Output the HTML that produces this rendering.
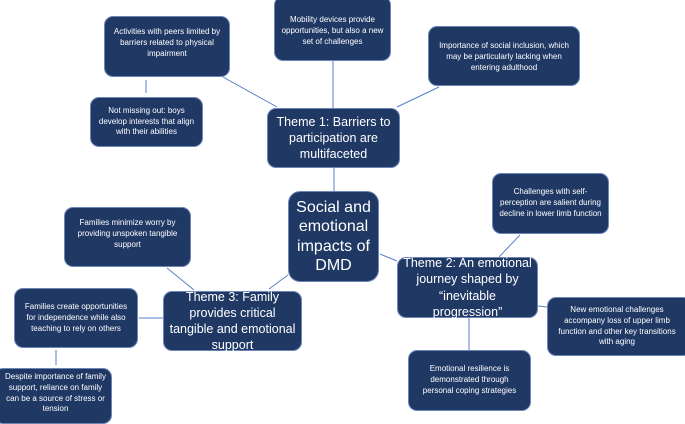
<!DOCTYPE html>
<html><head><meta charset="utf-8"><style>
body{margin:0;width:685px;height:418px;background:#fff;position:relative;overflow:hidden;font-family:"Liberation Sans",sans-serif}
.b{position:absolute;box-sizing:border-box;background:#203864;border:1px solid #6d86b8;border-radius:9px;color:#fff;display:flex;align-items:center;justify-content:center;text-align:center;font-size:8px;line-height:1.35;padding:3px 5px}
.s{align-items:flex-start;padding-top:10px}
.t{font-size:12.5px;line-height:1.3}
.c{font-size:16px;line-height:1.2;border-radius:12px}
svg{position:absolute;left:0;top:0}
</style></head><body>
<svg width="685" height="418"><g stroke="#5a7fc6" stroke-width="1">
<line x1="223" y1="77" x2="277" y2="107"/>
<line x1="333" y1="61" x2="333" y2="108"/>
<line x1="439" y1="87" x2="397" y2="107"/>
<line x1="146" y1="80" x2="146" y2="93"/>
<line x1="334" y1="168" x2="334" y2="191"/>
<line x1="167" y1="268" x2="194" y2="290"/>
<line x1="269" y1="289" x2="288" y2="275"/>
<line x1="380" y1="254" x2="397" y2="261"/>
<line x1="520" y1="235" x2="499" y2="257"/>
<line x1="538" y1="306" x2="547" y2="307"/>
<line x1="469" y1="318" x2="469" y2="350"/>
<line x1="139" y1="318" x2="163" y2="318"/>
<line x1="56" y1="350" x2="56" y2="365"/>
</g></svg>
<div class="b s" style="left:104px;top:16px;width:126px;height:61px">Activities with peers limited by barriers related to physical impairment</div>
<div class="b s" style="left:274px;top:-4px;width:117px;height:65px;padding-top:18px">Mobility devices provide opportunities, but also a new set of challenges</div>
<div class="b s" style="left:428px;top:26px;width:152px;height:60px;padding-top:14px">Importance of social inclusion, which may be particularly lacking when entering adulthood</div>
<div class="b" style="left:90px;top:97px;width:113px;height:50px">Not missing out: boys develop interests that align with their abilities</div>
<div class="b t" style="left:267px;top:108px;width:133px;height:60px">Theme 1: Barriers to participation are multifaceted</div>
<div class="b c" style="left:288px;top:191px;width:91px;height:91px">Social and emotional impacts of DMD</div>
<div class="b" style="left:492px;top:173px;width:117px;height:61px">Challenges with self-perception are salient during decline in lower limb function</div>
<div class="b s" style="left:64px;top:207px;width:127px;height:60px">Families minimize worry by providing unspoken tangible support</div>
<div class="b t" style="left:397px;top:257px;width:141px;height:61px">Theme 2: An emotional journey shaped by “inevitable progression”</div>
<div class="b s" style="left:14px;top:288px;width:124px;height:60px;padding-top:13px">Families create opportunities for independence while also teaching to rely on others</div>
<div class="b t" style="left:163px;top:291px;width:139px;height:60px">Theme 3: Family provides critical tangible and emotional support</div>
<div class="b" style="left:547px;top:297px;width:145px;height:59px;padding-right:10px">New emotional challenges accompany loss of upper limb function and other key transitions with aging</div>
<div class="b" style="left:-6px;top:368px;width:118px;height:56px;padding-left:10px;padding-bottom:8px">Despite importance of family support, reliance on family can be a source of stress or tension</div>
<div class="b" style="left:408px;top:350px;width:123px;height:61px">Emotional resilience is demonstrated through personal coping strategies</div>
</body></html>
